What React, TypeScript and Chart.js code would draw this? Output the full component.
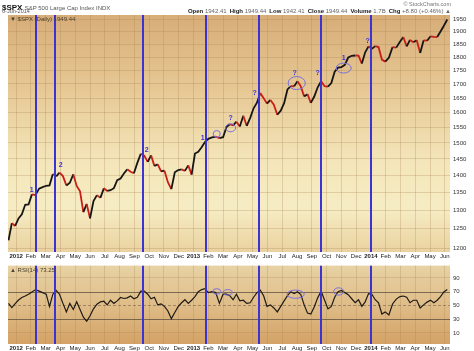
import React, { useEffect, useRef } from "react";
import { Chart, registerables } from "chart.js";

Chart.register(...registerables);

const FONT = "'Liberation Sans', Arial, Helvetica, sans-serif";

// One value per week, first week ending Friday 16-Dec-2011
const firstWeekEnding = [2011, 11, 16];

const weeklyClose = [
  1219.7, 1265.3, 1257.6,
  // 2012
  1277.8, 1289.1, 1315.4, 1316.3, 1344.9, 1342.6, 1361.2, 1365.7, 1369.6, 1370.9, 1404.2, 1397.1, 1408.5,
  1398.1, 1370.3, 1378.5, 1403.4, 1369.1, 1353.4, 1295.2, 1317.8, 1278.0, 1325.7, 1342.8, 1335.0, 1362.2,
  1354.7, 1356.8, 1362.7, 1386.0, 1391.0, 1405.9, 1418.2, 1411.1, 1406.6, 1437.9, 1465.8, 1460.2, 1440.7,
  1460.9, 1428.6, 1433.2, 1411.9, 1414.2, 1379.9, 1359.9, 1409.2, 1416.2, 1418.1, 1413.6, 1430.2, 1402.4,
  // 2013
  1466.5, 1472.1, 1486.0, 1503.0, 1513.2, 1517.9, 1519.8, 1515.6, 1518.2, 1551.2, 1560.7, 1556.9, 1569.2,
  1553.3, 1588.9, 1555.3, 1582.2, 1614.4, 1633.7, 1667.5, 1649.6, 1630.7, 1643.4, 1626.7, 1592.4, 1606.3,
  1631.9, 1680.2, 1692.1, 1691.7, 1709.7, 1691.4, 1655.8, 1663.5, 1633.0, 1655.2, 1688.0, 1709.9, 1691.8,
  1690.5, 1703.2, 1744.5, 1759.8, 1761.6, 1770.6, 1798.2, 1804.8, 1805.8, 1805.1, 1775.3, 1818.3, 1841.4,
  // 2014
  1831.4, 1842.4, 1838.7, 1790.3, 1782.6, 1797.0, 1838.6, 1836.3, 1859.5, 1878.0, 1841.1, 1866.5, 1857.6,
  1865.1, 1815.7, 1864.9, 1863.4, 1881.1, 1878.5, 1877.9, 1900.5, 1923.6, 1949.4,
];

const rsi14 = [
  53.1, 46.9, 52.7, 58, 61.6, 63.8, 66.4, 69.6, 73.1, 70.9,
  68.7, 66.4, 48.7, 66.4, 71.8, 66.4, 53.1, 40.7, 53.1, 44.2,
  55.3, 44.2, 33, 27, 35, 45.1, 51.8, 55.3, 56.2, 50.9,
  57.6, 53.1, 56.7, 61.6, 60.2, 61.1, 63.8, 59.8, 62, 70.9,
  70.9, 66.4, 59.8, 62, 50.9, 52.2, 48.7, 42, 30.9, 39.8,
  48.7, 54, 58.4, 53.1, 57.6, 62.9, 70, 73.1, 74.4, 68.7,
  70, 68.7, 53.1, 66.4, 66.4, 64.2, 58.4, 66.4, 56.7, 57.6,
  53.1, 54, 62, 68.7, 72.2, 64.2, 48.7, 50.9, 46.4, 40.7,
  48.7, 56.7, 64.2, 70, 67.3, 70, 65.8, 50.9, 38.9, 37.6,
  47.8, 61.1, 70.9, 57.6, 45.1, 48.7, 62, 70, 71.8, 68.7,
  65.8, 59.8, 54, 58.4, 48.7, 55.3, 67.3, 66.4, 58.4, 54,
  37.6, 40.7, 36.2, 52.2, 59.3, 62.9, 63.8, 62, 54, 57.6,
  57.6, 46.4, 50.9, 54.9, 57.6, 54, 57.6, 62.9, 69.6, 73.3,
];

const monthLabels = [
  "2012", "Feb", "Mar", "Apr", "May", "Jun", "Jul", "Aug", "Sep", "Oct", "Nov", "Dec",
  "2013", "Feb", "Mar", "Apr", "May", "Jun", "Jul", "Aug", "Sep", "Oct", "Nov", "Dec",
  "2014", "Feb", "Mar", "Apr", "May", "Jun",
];

const priceTicks = [1200, 1250, 1300, 1350, 1400, 1450, 1500, 1550, 1600, 1650, 1700, 1750, 1800, 1850, 1900, 1950];
const rsiTicks = [10, 30, 50, 70, 90];

// annotations (months since Jan 2012, price / RSI)
const markerMonths = [1.32, 2.6, 8.56, 12.82, 16.41, 20.6, 23.99];
const waveLabelText = ["1", "2", "2", "1", "?", "?", "?", "?", "1", "?"];
const waveLabelMonth = [1.05, 3.01, 8.83, 12.62, 14.51, 16.14, 18.84, 20.4, 22.16, 23.78];
const waveLabelPrice = [1357, 1430, 1479, 1514, 1580, 1668, 1740, 1740, 1796, 1862];
const priceCircles = [
  [13.33, 13.81, 1518, 1540],
  [14.17, 14.85, 1536, 1562],
  [18.4, 19.56, 1680, 1727],
  [21.65, 22.67, 1740, 1777],
];
const rsiCircles = [
  [13.3, 13.84, 66.4, 74.4],
  [14.01, 14.61, 65.1, 73.1],
  [18.33, 19.49, 60.4, 72.4],
  [21.48, 22.16, 65.1, 75.7],
];

function weekMonth(i: number) {
  const d = new Date(Date.UTC(firstWeekEnding[0], firstWeekEnding[1], firstWeekEnding[2] + 7 * i));
  const y = d.getUTCFullYear();
  const mo = d.getUTCMonth();
  const day = d.getUTCDate();
  const dim = new Date(Date.UTC(y, mo + 1, 0)).getUTCDate();
  return (y - 2012) * 12 + mo + (day - 1) / dim;
}

const GRID = "rgba(165,130,80,0.28)";
const BLUE = "#3b33d4";
const CIRCLE = "#7a6fe0";

function xScale(h: number) {
  return {
    type: "linear",
    min: -0.55,
    max: 29.35,
    afterBuildTicks: (s: any) => {
      s.ticks = monthLabels.map((_, i) => ({ value: i }));
    },
    afterFit: (s: any) => {
      s.height = h;
    },
    grid: { color: GRID, drawTicks: false, lineWidth: 1 },
    border: { display: false },
    ticks: {
      autoSkip: false,
      maxRotation: 0,
      padding: 1,
      color: "#222",
      callback: (v: any) => monthLabels[v] ?? "",
      font: (c: any) => ({
        family: FONT,
        size: 6,
        weight: (monthLabels[c.tick?.value] || "").startsWith("20") ? "bold" : "normal",
      }),
    },
  };
}

function makePanelPlugin(opts: {
  stops: [number, string][];
  legend: string;
  circles: number[][];
  labels: boolean;
  refLines: boolean;
}) {
  return {
    id: "panel",
    beforeDatasetsDraw(chart: any) {
      const { ctx, chartArea: a, scales } = chart;
      ctx.save();
      const g = ctx.createLinearGradient(0, a.top, 0, a.bottom);
      opts.stops.forEach(([o, c]) => g.addColorStop(o, c));
      ctx.globalCompositeOperation = "destination-over";
      ctx.fillStyle = g;
      ctx.fillRect(a.left, a.top, a.right - a.left, a.bottom - a.top);
      ctx.globalCompositeOperation = "source-over";
      if (opts.refLines) {
        const y = scales.y;
        ctx.lineWidth = 1;
        ctx.strokeStyle = "rgba(90,75,60,0.75)";
        [30, 70].forEach((v) => {
          const py = Math.round(y.getPixelForValue(v)) + 0.5;
          ctx.beginPath();
          ctx.moveTo(a.left, py);
          ctx.lineTo(a.right, py);
          ctx.stroke();
        });
        ctx.setLineDash([3, 2]);
        ctx.strokeStyle = "rgba(110,90,70,0.55)";
        const p5 = Math.round(y.getPixelForValue(50)) + 0.5;
        ctx.beginPath();
        ctx.moveTo(a.left, p5);
        ctx.lineTo(a.right, p5);
        ctx.stroke();
        ctx.setLineDash([]);
      }
      ctx.restore();
    },
    afterDatasetsDraw(chart: any) {
      const { ctx, chartArea: a, scales } = chart;
      const xs = scales.x;
      const ys = scales.y;
      ctx.save();
      ctx.beginPath();
      ctx.rect(a.left, a.top, a.right - a.left, a.bottom - a.top);
      ctx.clip();
      ctx.strokeStyle = BLUE;
      ctx.lineWidth = 2;
      markerMonths.forEach((m) => {
        const x = Math.round(xs.getPixelForValue(m));
        ctx.beginPath();
        ctx.moveTo(x, a.top);
        ctx.lineTo(x, a.bottom);
        ctx.stroke();
      });
      ctx.strokeStyle = CIRCLE;
      ctx.lineWidth = 1;
      opts.circles.forEach(([m0, m1, v0, v1]) => {
        const x0 = xs.getPixelForValue(m0);
        const x1 = xs.getPixelForValue(m1);
        const y0 = ys.getPixelForValue(v0);
        const y1 = ys.getPixelForValue(v1);
        ctx.beginPath();
        ctx.ellipse((x0 + x1) / 2, (y0 + y1) / 2, Math.abs(x1 - x0) / 2, Math.abs(y1 - y0) / 2, 0, 0, Math.PI * 2);
        ctx.stroke();
      });
      if (opts.labels) {
        ctx.fillStyle = BLUE;
        ctx.font = `bold 7px ${FONT}`;
        ctx.textAlign = "center";
        ctx.textBaseline = "middle";
        waveLabelText.forEach((t, i) => {
          ctx.fillText(t, xs.getPixelForValue(waveLabelMonth[i]), ys.getPixelForValue(waveLabelPrice[i]));
        });
      }
      ctx.restore();
      ctx.save();
      ctx.font = `6px ${FONT}`;
      ctx.fillStyle = "#4a4030";
      ctx.textBaseline = "middle";
      ctx.textAlign = "left";
      ctx.fillText(opts.legend, a.left + 2, a.top + 4.5);
      ctx.restore();
    },
  };
}

export default function App() {
  const priceRef = useRef<HTMLCanvasElement>(null);
  const rsiRef = useRef<HTMLCanvasElement>(null);

  useEffect(() => {
    const xs = weeklyClose.map((_, i) => weekMonth(i));
    const priceData = weeklyClose.map((v, i) => ({ x: xs[i], y: v }));
    const rsiData = rsi14.map((v, i) => ({ x: xs[i], y: v }));

    const segColor = (c: any) => (c.p1.parsed.y < c.p0.parsed.y ? "#c81e18" : "#161616");

    const c1 = new Chart(priceRef.current as HTMLCanvasElement, {
      type: "line",
      data: {
        datasets: [
          {
            data: priceData,
            borderWidth: 1.8,
            pointRadius: 0,
            tension: 0,
            borderColor: "#161616",
            segment: { borderColor: segColor },
          } as any,
        ],
      },
      options: {
        animation: false,
        responsive: false,
        parsing: false,
        layout: { padding: { left: 8, top: 15, right: 0, bottom: 0 } },
        plugins: { legend: { display: false }, tooltip: { enabled: false } },
        scales: {
          x: xScale(7) as any,
          y: {
            type: "logarithmic",
            position: "right",
            min: 1190,
            max: 1968,
            afterBuildTicks: (s: any) => {
              s.ticks = priceTicks.map((v) => ({ value: v }));
            },
            afterFit: (s: any) => {
              s.width = 24;
            },
            grid: { color: GRID, drawTicks: false },
            border: { display: false },
            ticks: {
              padding: 3,
              color: "#333",
              font: { family: FONT, size: 6 },
              callback: (v: any) => String(v),
            },
          } as any,
        },
      },
      plugins: [
        makePanelPlugin({
          stops: [
            [0, "#d7ad78"],
            [0.3, "#e6c793"],
            [0.62, "#f4e6ba"],
            [0.82, "#f6ecc3"],
            [1, "#ead2a0"],
          ],
          legend: "▼ $SPX (Daily) 1949.44",
          circles: priceCircles,
          labels: true,
          refLines: false,
        }),
      ],
    });

    const c2 = new Chart(rsiRef.current as HTMLCanvasElement, {
      type: "line",
      data: {
        datasets: [
          {
            data: rsiData,
            borderWidth: 1.2,
            pointRadius: 0,
            tension: 0,
            borderColor: "#1e1a14",
          } as any,
        ],
      },
      options: {
        animation: false,
        responsive: false,
        parsing: false,
        layout: { padding: { left: 8, top: 0, right: 0, bottom: 0 } },
        plugins: { legend: { display: false }, tooltip: { enabled: false } },
        scales: {
          x: xScale(7) as any,
          y: {
            type: "linear",
            position: "right",
            min: -6,
            max: 108,
            afterBuildTicks: (s: any) => {
              s.ticks = rsiTicks.map((v) => ({ value: v }));
            },
            afterFit: (s: any) => {
              s.width = 24;
            },
            grid: {
              drawTicks: false,
              color: (c: any) => (c.tick && [30, 50, 70].includes(c.tick.value) ? "rgba(0,0,0,0)" : GRID),
            },
            border: { display: false },
            ticks: {
              padding: 3,
              color: "#333",
              font: { family: FONT, size: 6 },
              callback: (v: any) => String(v),
            },
          } as any,
        },
      },
      plugins: [
        makePanelPlugin({
          stops: [
            [0, "#e8d2a4"],
            [0.5, "#dfbd88"],
            [1, "#d4a266"],
          ],
          legend: "▲ RSI(14) 73.25",
          circles: rsiCircles,
          labels: false,
          refLines: true,
        }),
      ],
    });

    return () => {
      c1.destroy();
      c2.destroy();
    };
  }, []);

  const wrap: React.CSSProperties = {
    position: "absolute",
    left: 0,
    top: 0,
    width: 474,
    height: 351,
    background: "#fff",
    overflow: "hidden",
    fontFamily: FONT,
  };
  const lab: React.CSSProperties = { fontWeight: "bold", color: "#222" };
  const val: React.CSSProperties = { color: "#666", marginRight: 3 };

  return (
    <div style={wrap}>
      <canvas ref={priceRef} width={474} height={259} style={{ position: "absolute", left: 0, top: 0 }} />
      <canvas ref={rsiRef} width={474} height={92} style={{ position: "absolute", left: 0, top: 259 }} />
      <div style={{ position: "absolute", left: 2, top: 0, whiteSpace: "nowrap", lineHeight: "9px" }}>
        <span style={{ fontWeight: "bold", fontSize: 8, color: "#111" }}>$SPX </span>
        <span style={{ fontSize: 6, color: "#555" }}>S&amp;P 500 Large Cap Index INDX</span>
      </div>
      <div style={{ position: "absolute", left: 2, top: 8, fontSize: 5.5, color: "#555", lineHeight: "7px" }}>6-Jun-2014</div>
      <div style={{ position: "absolute", right: 23, top: 1, fontSize: 5.5, color: "#777", lineHeight: "7px", whiteSpace: "nowrap" }}>
        © StockCharts.com
      </div>
      <div style={{ position: "absolute", right: 23, top: 8, fontSize: 6, lineHeight: "7px", whiteSpace: "nowrap" }}>
        <span style={lab}>Open </span>
        <span style={val}>1942.41</span>
        <span style={lab}>High </span>
        <span style={val}>1949.44</span>
        <span style={lab}>Low </span>
        <span style={val}>1942.41</span>
        <span style={lab}>Close </span>
        <span style={val}>1949.44</span>
        <span style={lab}>Volume </span>
        <span style={val}>1.7B</span>
        <span style={lab}>Chg </span>
        <span style={{ color: "#666" }}>+8.80 (+0.46%) ▲</span>
      </div>
    </div>
  );
}
